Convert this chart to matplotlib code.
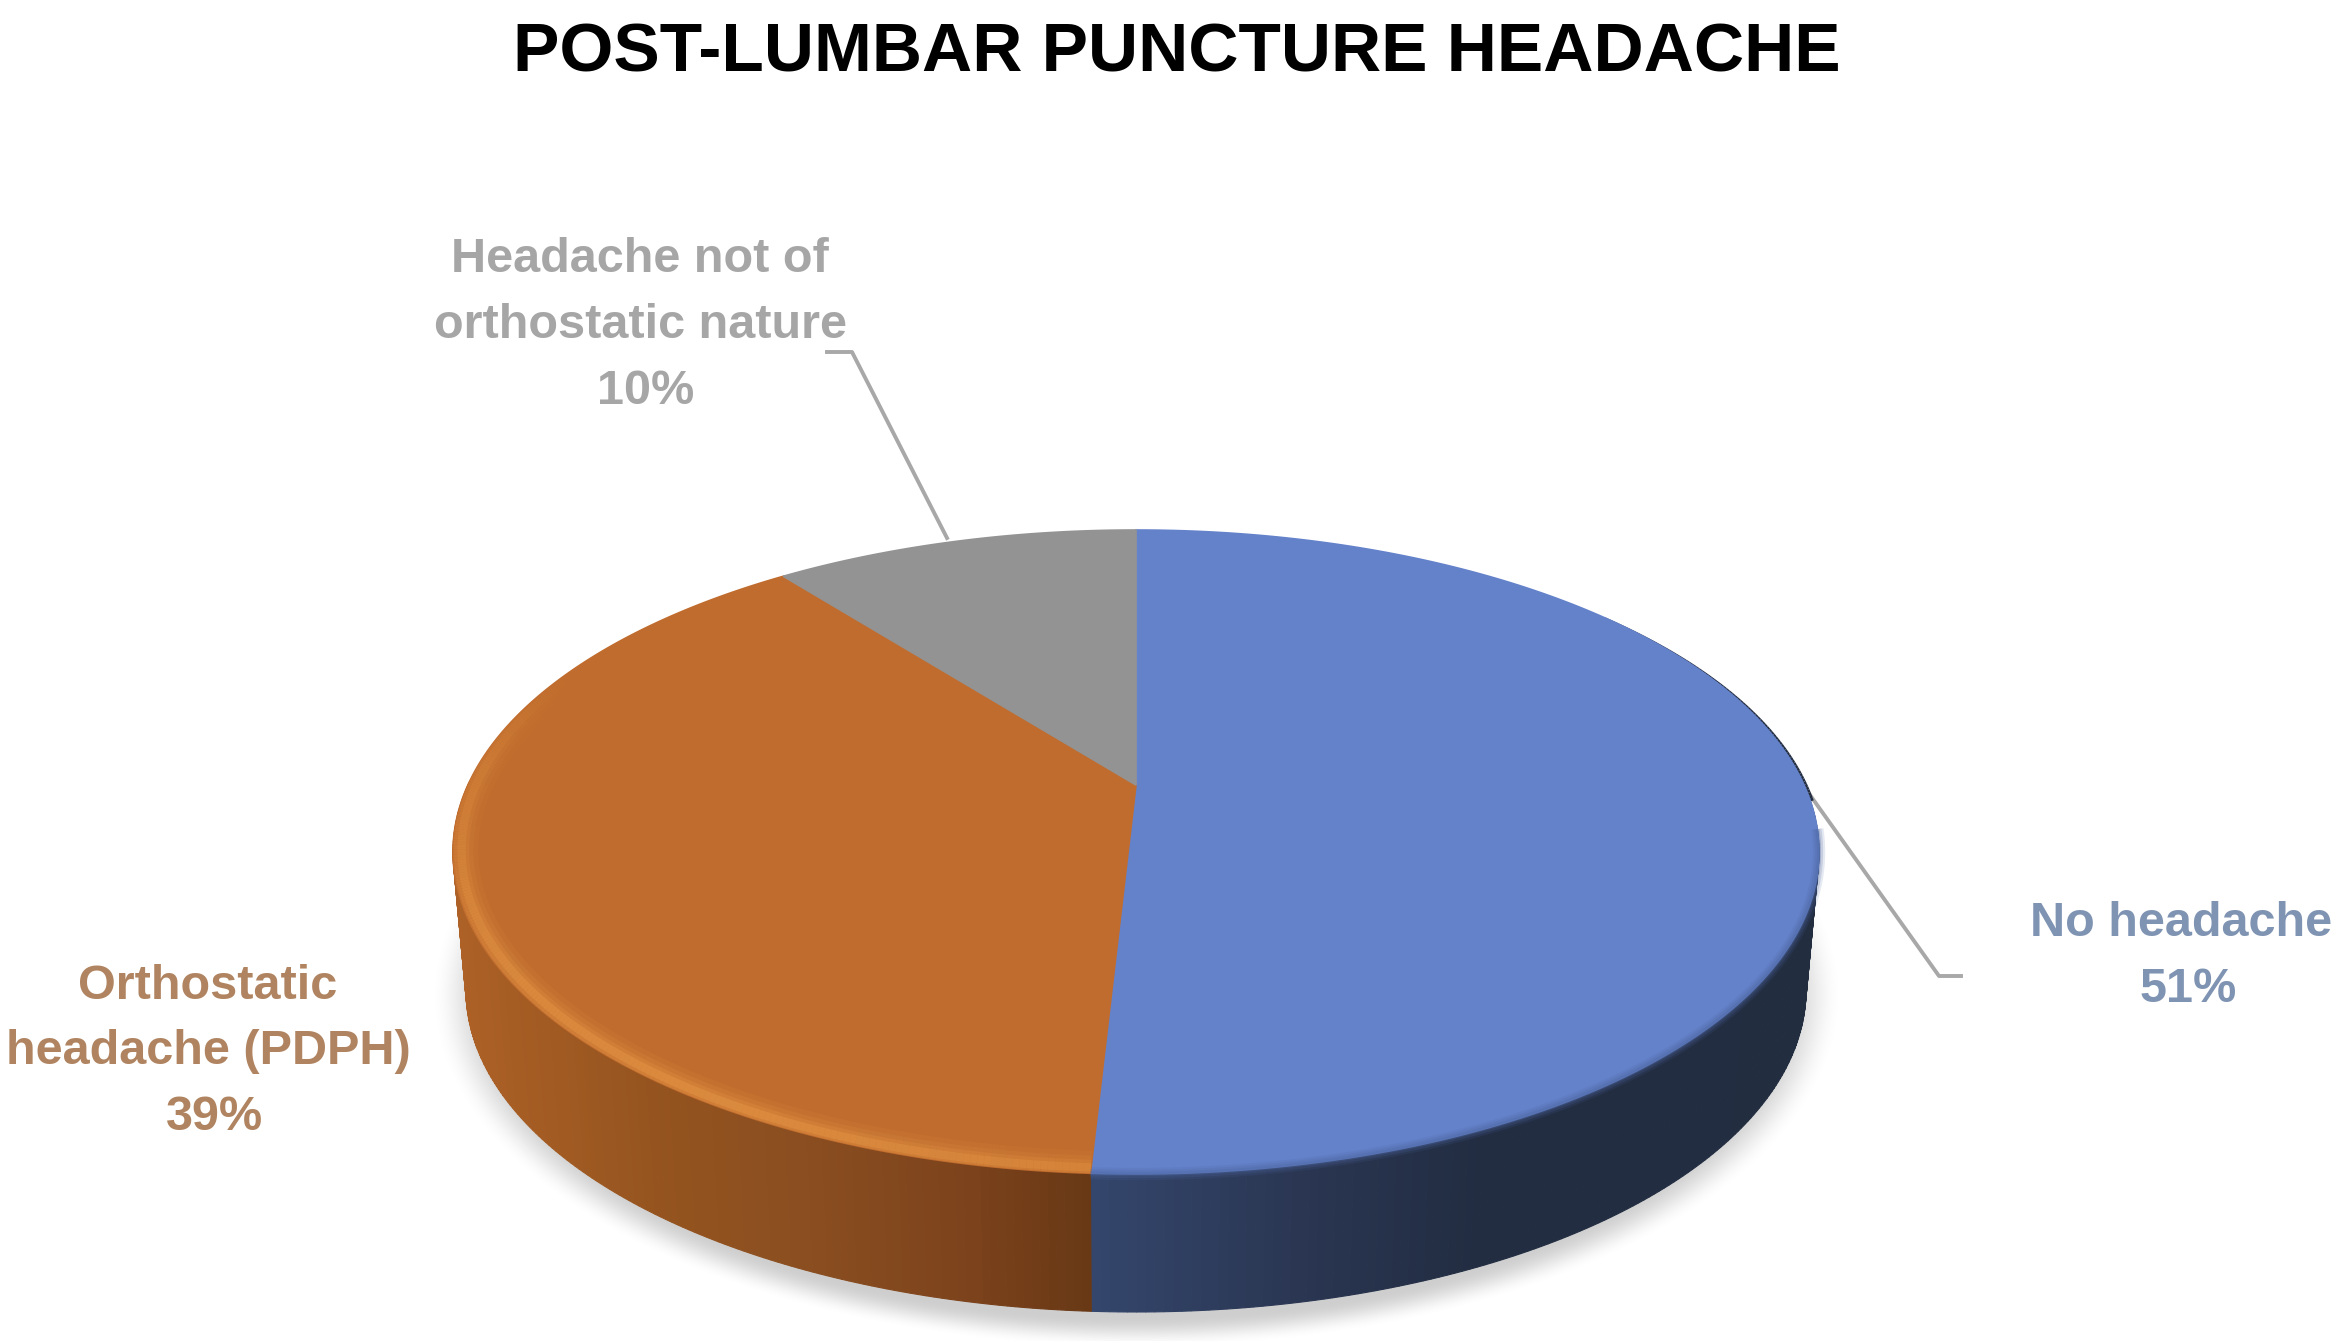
import matplotlib
matplotlib.use("Agg")
import matplotlib.pyplot as plt
import numpy as np
from matplotlib.collections import LineCollection
from matplotlib.colors import to_rgb
from matplotlib.patches import Polygon

plt.rcParams["font.family"] = ["Liberation Sans", "DejaVu Sans"]

# --- data ---
title = "POST-LUMBAR PUNCTURE HEADACHE"
categories = ["No headache", "Orthostatic headache (PDPH)", "Headache not of orthostatic nature"]
values = [51, 39, 10]
top_colors = ["#6482ca", "#c06c2e", "#939393"]
text_colors = ["#7f93b2", "#b08460", "#a6a6a6"]
label_lines = [["No headache", "51%"],
               ["Orthostatic", "headache (PDPH)", "39%"],
               ["Headache not of", "orthostatic nature", "10%"]]
label_xy = [[(2181, 923), (2188, 989)],
            [(208, 986), (208, 1052), (214, 1118)],
            [(640, 259), (640, 325), (646, 391)]]

# geometry of the disc, in pixels
cx, cy, a, b = 1136, 852, 683, 322
p = 0.208      # perspective: how far the apex sits above the ellipse centre
wall_h = 138
a_low = 670

fig = plt.figure(figsize=(23.41, 13.41), dpi=100)
ax = fig.add_axes([0, 0, 1, 1])
ax.set_xlim(0, 2341)
ax.set_ylim(1341, 0)
ax.axis("off")


def disc_xy(theta, inset=0.0, low=False):
    """theta clockwise from 12 o'clock, radians -> picture coordinates"""
    # small correction of the view
    theta = theta + 0.034 * np.sin(2 * theta) - 0.013 * (1 - np.cos(theta)) / 2
    r = 1.0 - inset
    s, t = a * np.sqrt(1 - p**2), b * (1 - p**2)
    den = 1 + p * r * np.cos(theta)
    u = s * r * np.sin(theta) / den
    v = t * r * np.cos(theta) / den
    if low:
        return cx + u * a_low / a, cy - b * p + wall_h - v
    return cx + u, cy - b * p - v


def mix(stops, x):
    xs = [s[0] for s in stops]
    rgb = np.array([to_rgb(s[1]) for s in stops])
    return tuple(np.interp(x, xs, rgb[:, i]) for i in range(3))


# soft shadow on the ground
yy, xx = np.mgrid[0:1341, 0:2341]
d = np.sqrt(((xx - cx) / 705.0) ** 2 + ((yy - 995) / 352.0) ** 2)
alpha = np.clip((1 - d) / 0.085, 0, 1)
alpha = alpha * alpha * (3 - 2 * alpha) * 0.5
shadow = np.zeros((1341, 2341, 4))
shadow[..., :3] = 0.62
shadow[..., 3] = alpha
ax.imshow(shadow, extent=(0, 2341, 1341, 0), aspect="auto", zorder=1)

edges = 2 * np.pi * np.cumsum([0] + values) / sum(values)

# side wall, thin strips so that the shade can follow x
wall_stops = [
    [(1090, "#34466c"), (1300, "#2a3652"), (1480, "#222d42"), (1830, "#222d40")],
    [(450, "#ad6126"), (650, "#95541f"), (800, "#8a4e20"), (960, "#7d431c"), (1090, "#683815")],
]
for i in range(2):
    th0 = max(edges[i], np.pi / 2)
    th1 = min(edges[i + 1], 3 * np.pi / 2 + 0.02)
    grid = np.linspace(th0, th1, 160)
    for t0, t1 in zip(grid[:-1], grid[1:]):
        seg = np.linspace(t0, t1, 3)
        xt, yt = disc_xy(seg)
        xb, yb = disc_xy(seg, low=True)
        col = mix(wall_stops[i], xt.mean())
        ax.add_patch(Polygon(np.r_[np.c_[xt, yt], np.c_[xb, yb][::-1]], fc=col, ec=col, lw=0.8, zorder=2))

# dark sliver of the wall on the far right shoulder
th = np.linspace(0.28 * np.pi, 0.52 * np.pi, 80)
sx, sy = disc_xy(th)
pts = np.c_[sx + 1, sy]
segs = np.stack([pts[:-1], pts[1:]], axis=1)
ax.add_collection(LineCollection(segs, colors="#222d42", linewidths=np.linspace(0.3, 3.5, 79), zorder=2.8))

# top face
faces = []
for i, col in enumerate(top_colors):
    th = np.linspace(edges[i], edges[i + 1], 200)
    xs, ys = disc_xy(th)
    ax_, ay_ = disc_xy(np.array([0.0]), inset=1.0)
    pts = np.r_[np.c_[xs, ys], np.c_[ax_, ay_]]
    poly = Polygon(pts, fc=col, ec=col, lw=1.2, zorder=3)
    ax.add_patch(poly)
    faces.append(poly)

# lighter bevel along the front edge of the orange slice
th = np.linspace(edges[1], edges[1] + 1.95, 240)
bx, by = disc_xy(th, inset=0.012)
pts = np.c_[bx, by]
segs = np.stack([pts[:-1], pts[1:]], axis=1)
strength = np.interp(th[:-1], [edges[1], edges[1] + 0.45, edges[1] + 1.0, edges[1] + 1.6, edges[1] + 1.95],
                     [0.7, 1.0, 0.85, 0.4, 0.0])
for lw, al in [(24, 0.10), (17, 0.15), (11, 0.22), (6, 0.34)]:
    rgba = np.zeros((len(segs), 4))
    rgba[:, :3] = to_rgb("#eea04a")
    rgba[:, 3] = strength * al
    lc = LineCollection(segs, colors=rgba, linewidths=lw, capstyle="butt", zorder=4)
    ax.add_collection(lc)
    lc.set_clip_path(faces[1])

# blurred front edge of the blue slice
th = np.linspace(0.55 * np.pi, edges[1], 200)
ex, ey = disc_xy(th)
for lw, al in [(9, 0.14), (6, 0.2), (3, 0.3)]:
    ax.plot(ex, ey, color="#4d659f", lw=lw, alpha=al, zorder=4, solid_capstyle="butt")

# leader lines
ax.plot([1810, 1939, 1961], [795, 976, 976], color="#a8a8a8", lw=2.8, zorder=2.5)
ax.plot([827, 852, 947], [352, 352, 538], color="#a8a8a8", lw=2.8, zorder=2.5)

# texts
ax.text(1177, 53, title, ha="center", va="center", fontsize=50, fontweight="bold", color="black", zorder=6)
for lines, xys, col in zip(label_lines, label_xy, text_colors):
    for line, (x, y) in zip(lines, xys):
        ax.text(x, y, line, ha="center", va="center", fontsize=35, fontweight="bold", color=col, zorder=6)

fig.savefig("out.png", dpi=100)
